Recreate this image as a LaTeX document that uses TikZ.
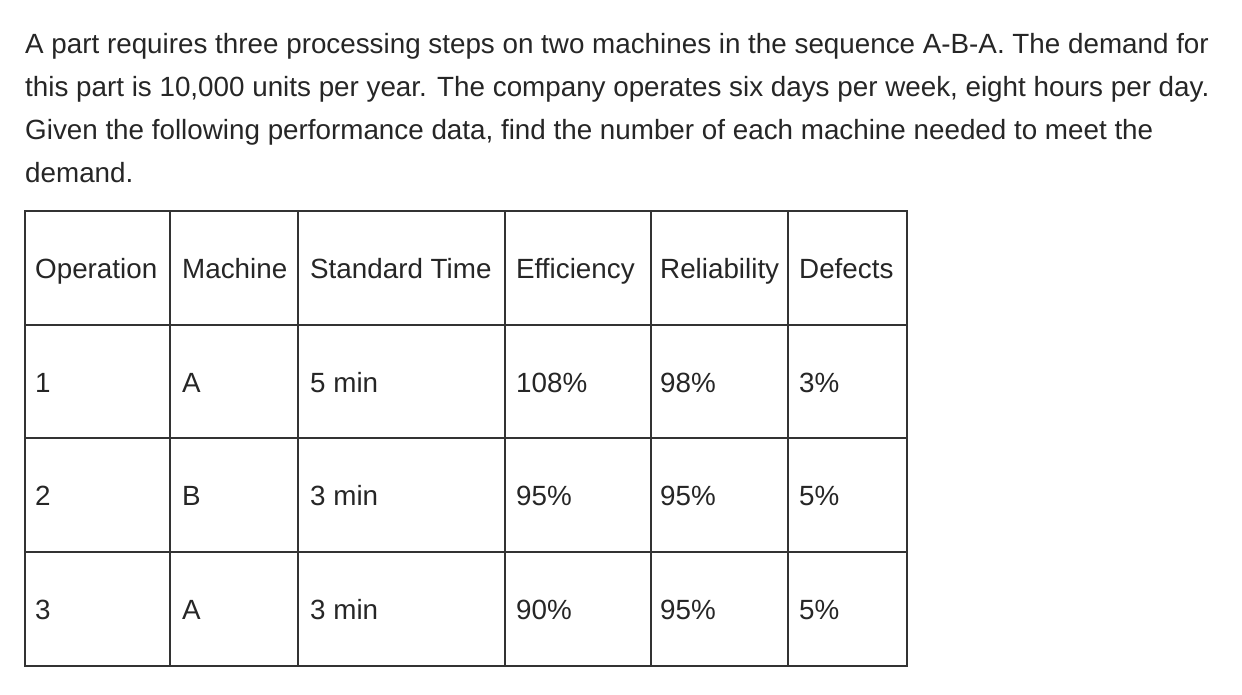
\documentclass[tikz,border=0pt]{standalone}
\usepackage{fontspec}
\setmainfont{Liberation Sans}
\begin{document}
\begin{tikzpicture}[x=1pt,y=-1pt,
  txt/.style={anchor=base west,inner sep=0pt,font=\fontsize{27.8}{32}\selectfont,text=black!85},
  grid/.style={draw=black!80,line width=1.2pt}]
\useasboundingbox[fill=white] (0,0) rectangle (1242,694);
\node[txt] (l1) at (25,53) {A part requires three processing steps on two machines in the sequence A-B-A. The demand for};
\node[txt] (l2) at (25,96) {this part is 10,000 units per year. The company operates six days per week, eight hours per day.};
\node[txt] (l3) at (25,139) {Given the following performance data, find the number of each machine needed to meet the};
\node[txt] (l4) at (25,182) {demand.};
\draw[grid] (25,211) rectangle (907,666);
\foreach \x in {170,298,505,651,788} \draw[grid] (\x,211) -- (\x,666);
\foreach \y in {325,438,552} \draw[grid] (25,\y) -- (907,\y);
\foreach \t [count=\i] in {Operation,Machine,Standard Time,Efficiency,Reliability,Defects}{
  \pgfmathsetmacro{\xx}{{35,182,310,516,660,799}[\i-1]}
  \node[txt] (h\i) at (\xx,278) {\t};}
\foreach \a/\b/\c/\d/\e/\f/\yy/\r in {1/A/5 min/108\%/98\%/3\%/392/1, 2/B/3 min/95\%/95\%/5\%/505/2, 3/A/3 min/90\%/95\%/5\%/619/3}{
  \node[txt] (r\r a) at (35,\yy) {\a};
  \node[txt] (r\r b) at (182,\yy) {\b};
  \node[txt] (r\r c) at (310,\yy) {\c};
  \node[txt] (r\r d) at (516,\yy) {\d};
  \node[txt] (r\r e) at (660,\yy) {\e};
  \node[txt] (r\r f) at (799,\yy) {\f};
}
\end{tikzpicture}
\end{document}
